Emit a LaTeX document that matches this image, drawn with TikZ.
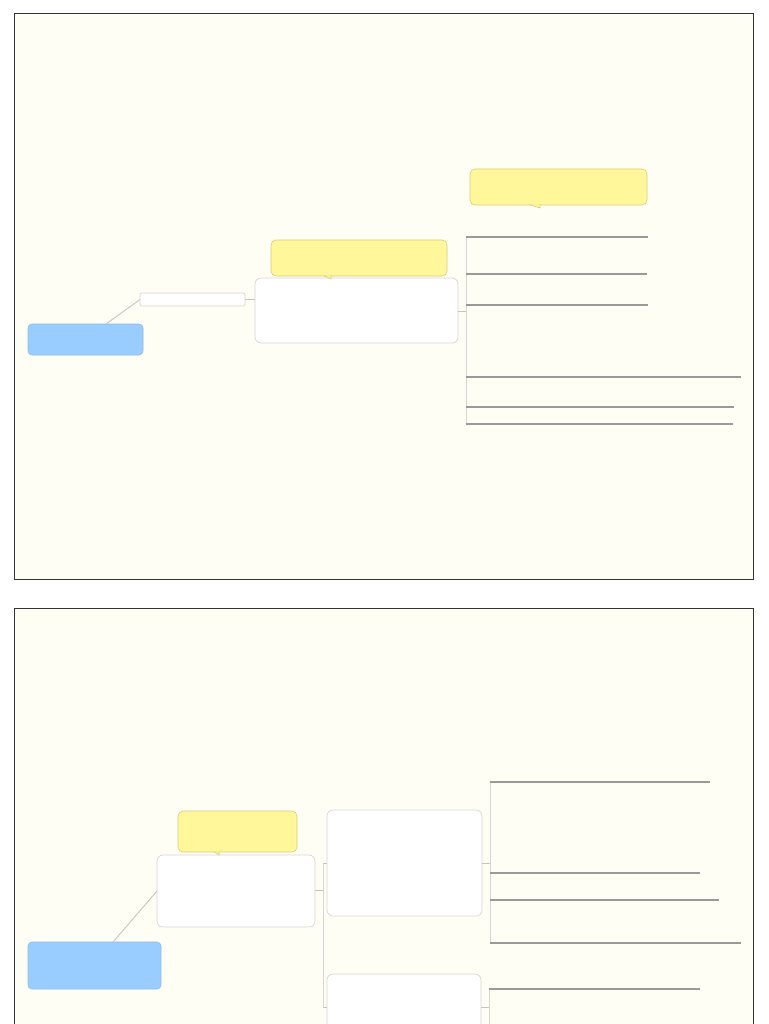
\documentclass[tikz,border=0pt]{standalone}
\usepackage{tikz}
\usepackage{xcolor}
\usetikzlibrary{calc}

\definecolor{paper}{HTML}{FFFEF5}
\definecolor{framegray}{HTML}{333333}
\definecolor{rootblue}{HTML}{99CCFF}
\definecolor{rootedge}{HTML}{8DBBE8}
\definecolor{noteyellow}{HTML}{FFF799}
\definecolor{noteedge}{HTML}{D8CB7A}
\definecolor{boxedge}{HTML}{D6D6D6}
\definecolor{linkgray}{HTML}{C4C4C4}
\definecolor{rulegray}{HTML}{9A9A9A}

\tikzset{
  rootbox/.style={draw=rootedge, fill=rootblue, rounded corners=4pt, line width=0.6pt, inner sep=0pt, outer sep=0pt, anchor=north west},
  topicbox/.style={draw=boxedge, fill=white, rounded corners=6pt, line width=0.7pt, inner sep=0pt, outer sep=0pt, anchor=north west},
  notebox/.style={draw=noteedge, fill=noteyellow, rounded corners=5pt, line width=0.6pt, inner sep=0pt, outer sep=0pt, anchor=north west},
  link/.style={draw=linkgray, line width=0.9pt},
  bracket/.style={draw=boxedge, line width=0.9pt, rounded corners=2pt},
  underline/.style={draw=rulegray, line width=1.1pt}
}

\begin{document}
\begin{tikzpicture}[x=1pt, y=-1pt]
    \useasboundingbox (0,0) rectangle (768,1024);
    \clip (0,0) rectangle (768,1024);
    \fill[white] (0,0) rectangle (768,1024);

    % Upper sheet
    \filldraw[fill=paper, draw=framegray, line width=1pt] (14,14) rectangle (753,579);

    \node[rootbox, minimum width=115pt, minimum height=31pt] (rootA) at (28,324) {};
    \node[topicbox, rounded corners=2pt, minimum width=105pt, minimum height=13pt] (stemA) at (140,293) {};
    \node[topicbox, minimum width=203pt, minimum height=65pt] (mainA) at (255,278) {};
    \node[notebox, minimum width=176pt, minimum height=36pt] (noteA) at (271,240) {};
    \node[notebox, minimum width=177pt, minimum height=36pt] (noteB) at (470,169) {};

    % callout tails
    \filldraw[fill=noteyellow, draw=noteedge, line width=0.6pt]
        ($(noteA.south west)+(53,-0.5)$) -- ($(noteA.south west)+(60,3)$) -- ($(noteA.south west)+(60,-0.5)$);
    \filldraw[fill=noteyellow, draw=noteedge, line width=0.6pt]
        ($(noteB.south west)+(59,-0.5)$) -- ($(noteB.south west)+(70,3)$) -- ($(noteB.south west)+(70,-0.5)$);

    \draw[link] ($(rootA.north west)+(78,0)$) -- (stemA.west);
    \draw[link] (stemA.east) -- (mainA.west |- stemA.east);

    % branches of the main topic
    \coordinate (forkA) at (466,311);
    \coordinate (tA1) at (466,237);  \coordinate (eA1) at (648,237);
    \coordinate (tA2) at (466,274);  \coordinate (eA2) at (647,274);
    \coordinate (tA3) at (466,305);  \coordinate (eA3) at (648,305);
    \coordinate (tA4) at (466,377);  \coordinate (eA4) at (741,377);
    \coordinate (tA5) at (466,407);  \coordinate (eA5) at (734,407);
    \coordinate (tA6) at (466,424);  \coordinate (eA6) at (733,424);
    \draw[link] (mainA.east |- forkA) -- (forkA);
    \draw[bracket] (tA1) -- (tA6);
    \foreach \i in {1,...,6}
        \draw[underline] (tA\i) -- (eA\i);

    % Lower sheet
    \filldraw[fill=paper, draw=framegray, line width=1pt] (14,608) rectangle (753,1060);

    \node[rootbox, minimum width=133pt, minimum height=47pt] (rootB) at (28,942) {};
    \node[topicbox, minimum width=158pt, minimum height=72pt] (mainB) at (157,855) {};
    \node[notebox, minimum width=119pt, minimum height=41pt] (noteC) at (178,811) {};
    \node[topicbox, minimum width=155pt, minimum height=106pt] (subB1) at (327,810) {};
    \node[topicbox, minimum width=154pt, minimum height=70pt] (subB2) at (327,974) {};

    \filldraw[fill=noteyellow, draw=noteedge, line width=0.6pt]
        ($(noteC.south west)+(36,-0.5)$) -- ($(noteC.south west)+(41,3)$) -- ($(noteC.south west)+(41,-0.5)$);

    \draw[link] ($(rootB.north west)+(85,0)$) -- (mainB.west);

    \coordinate (forkB) at (323,890);
    \coordinate (tB1) at (323,863);
    \coordinate (tB2) at (323,1007);
    \draw[link] (mainB.east |- forkB) -- (forkB);
    \draw[bracket] (tB1) -- (tB2);
    \draw[link] (tB1) -- (subB1.west |- tB1);
    \draw[link] (tB2) -- (subB2.west |- tB2);

    \coordinate (forkC) at (490,863);
    \coordinate (tC1) at (490,782);  \coordinate (eC1) at (710,782);
    \coordinate (tC2) at (490,873);  \coordinate (eC2) at (700,873);
    \coordinate (tC3) at (490,900);  \coordinate (eC3) at (719,900);
    \coordinate (tC4) at (490,943);  \coordinate (eC4) at (741,943);
    \draw[link] (subB1.east |- forkC) -- (forkC);
    \draw[bracket] (tC1) -- (tC4);
    \foreach \i in {1,...,4}
        \draw[underline] (tC\i) -- (eC\i);

    \coordinate (forkD) at (489,1007);
    \coordinate (tD1) at (489,989);  \coordinate (eD1) at (700,989);
    \draw[link] (subB2.east |- forkD) -- (forkD);
    \draw[bracket] (tD1) -- (489,1040);
    \draw[underline] (tD1) -- (eD1);
\end{tikzpicture}
\end{document}
